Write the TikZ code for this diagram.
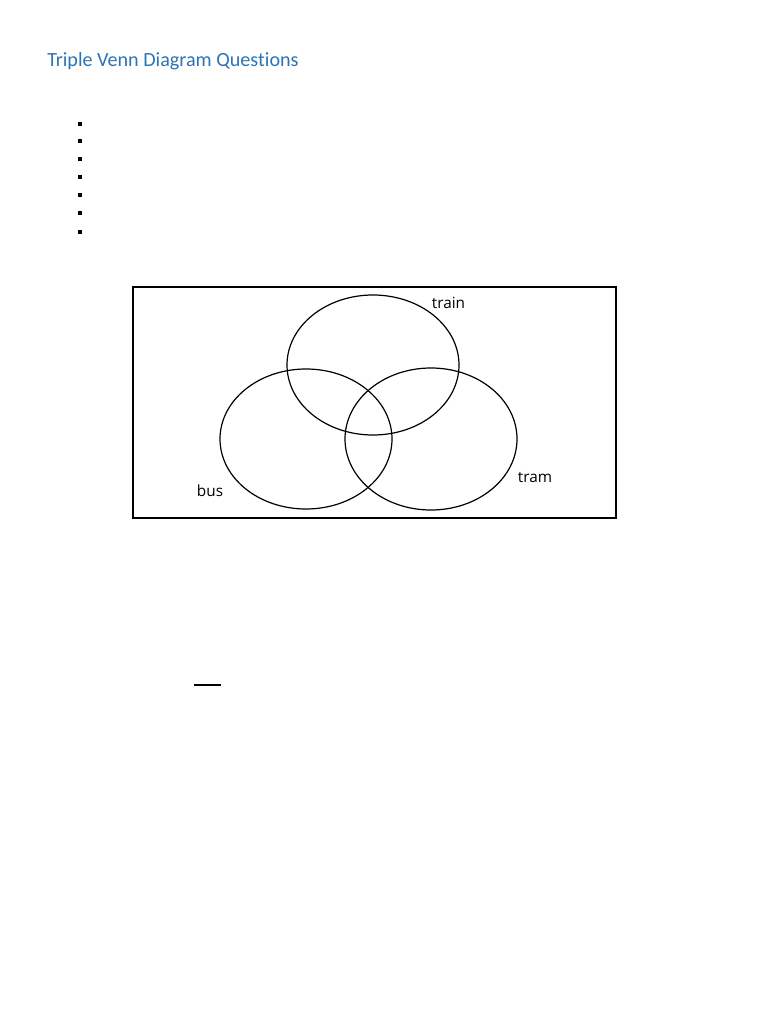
\documentclass[tikz,border=0pt]{standalone}
\usepackage{fontspec}
\setmainfont{Carlito}[Ligatures=NoCommon]
\newfontfamily\lblfont{Open Sans}
\definecolor{titleblue}{HTML}{2E74B5}
\begin{document}
\begin{tikzpicture}[x=0.75pt,y=-0.75pt,
  venn/.style={draw=black,line width=0.9pt},
  lbl/.style={font=\lblfont\fontsize{11.5pt}{13pt}\selectfont,inner sep=0pt},
  bullet/.style={fill=black,inner sep=0pt,minimum size=3.4pt,draw=none}]
\useasboundingbox[fill=white] (0,0) rectangle (768,1024);
\node[anchor=west,inner sep=0pt,text=titleblue,font=\fontsize{15.1pt}{18pt}\selectfont] (title) at (47,61) {Triple Venn Diagram Questions};
\foreach \y [count=\i] in {124,141,159,177,195,213,232}
  \node[bullet] (b\i) at (80,\y) {};
\node[draw=black,line width=0.9pt,minimum width=483*0.75pt,minimum height=231*0.75pt,inner sep=0pt] (frame) at (374.5,402.5) {};
\draw[venn] (373,365) ellipse [x radius=86, y radius=70];
\draw[venn] (306,439) ellipse [x radius=86, y radius=70];
\draw[venn] (431,439) ellipse [x radius=86, y radius=71];
\node[lbl] (train) at (448.5,303) {train};
\node[lbl] (bus) at (210,491) {bus};
\node[lbl] (tram) at (535,478) {tram};
\draw[line width=0.9pt] (194,685) -- (221,685);
\end{tikzpicture}
\end{document}
